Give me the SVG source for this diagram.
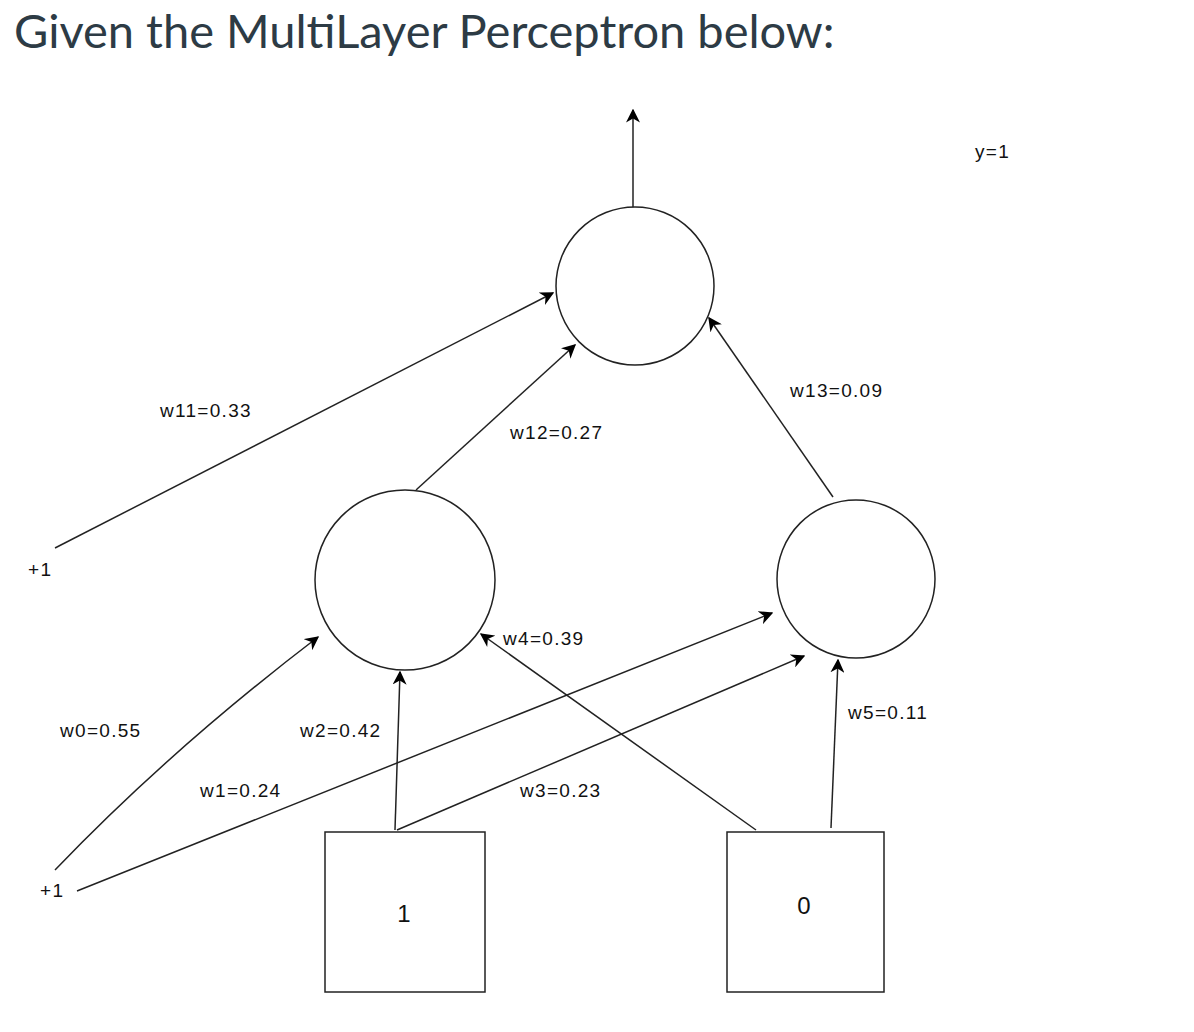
<svg xmlns="http://www.w3.org/2000/svg" width="1194" height="1032" viewBox="0 0 1194 1032">
<style>
.n{fill:#fff;stroke:#222;stroke-width:1.5}
.c{fill:none;stroke:#222;stroke-width:1.5}
.t{font-family:"Liberation Sans",Arial,sans-serif;font-size:19px;letter-spacing:1.3px;fill:#111}
.v{font-family:"Liberation Sans",Arial,sans-serif;font-size:24px;fill:#111}
</style>
<defs><marker id="a" viewBox="0 0 10 10" refX="9" refY="5" markerWidth="14" markerHeight="14" orient="auto" markerUnits="userSpaceOnUse"><path d="M0,0L10,5L0,10L3,5z" fill="#000"/></marker></defs>
<rect width="1194" height="1032" fill="#fff"/>
<text x="14" y="48" font-family="Lato,'Open Sans',sans-serif" font-size="47" fill="#2d3b45">Given the MultiLayer Perceptron below:</text>
<g id="connectors">
<path class="c" marker-end="url(#a)" d="M633,210 L633,110"/>
<path class="c" marker-end="url(#a)" d="M55,548 L553,293"/>
<path class="c" marker-end="url(#a)" d="M416,490 L575,345"/>
<path class="c" marker-end="url(#a)" d="M833,497 L709,318"/>
<path class="c" marker-end="url(#a)" d="M55,870 Q170,750 318,637"/>
<path class="c" marker-end="url(#a)" d="M77,891 L772,613"/>
<path class="c" marker-end="url(#a)" d="M395,830 L400,672"/>
<path class="c" marker-end="url(#a)" d="M397,830 L804,656"/>
<path class="c" marker-end="url(#a)" d="M756,830 L481,634"/>
<path class="c" marker-end="url(#a)" d="M831,828 L838,660"/>
</g>
<g id="out"><circle class="n" cx="635" cy="286" r="79"/></g>
<g id="h1"><circle class="n" cx="405" cy="580" r="90"/></g>
<g id="h2"><circle class="n" cx="856" cy="579" r="79"/></g>
<g id="x1"><rect class="n" x="325" y="832" width="160" height="160"/><text class="v" x="404" y="922" text-anchor="middle">1</text></g>
<g id="x2"><rect class="n" x="727" y="832" width="157" height="160"/><text class="v" x="804" y="914" text-anchor="middle">0</text></g>
<g id="labels">
<text class="t" x="975" y="158">y=1</text>
<text class="t" x="160" y="417">w11=0.33</text>
<text class="t" x="510" y="439">w12=0.27</text>
<text class="t" x="790" y="397">w13=0.09</text>
<text class="t" x="28" y="576">+1</text>
<text class="t" x="503" y="645">w4=0.39</text>
<text class="t" x="60" y="737">w0=0.55</text>
<text class="t" x="300" y="737">w2=0.42</text>
<text class="t" x="848" y="719">w5=0.11</text>
<text class="t" x="200" y="797">w1=0.24</text>
<text class="t" x="520" y="797">w3=0.23</text>
<text class="t" x="40" y="897">+1</text>
</g>
</svg>
